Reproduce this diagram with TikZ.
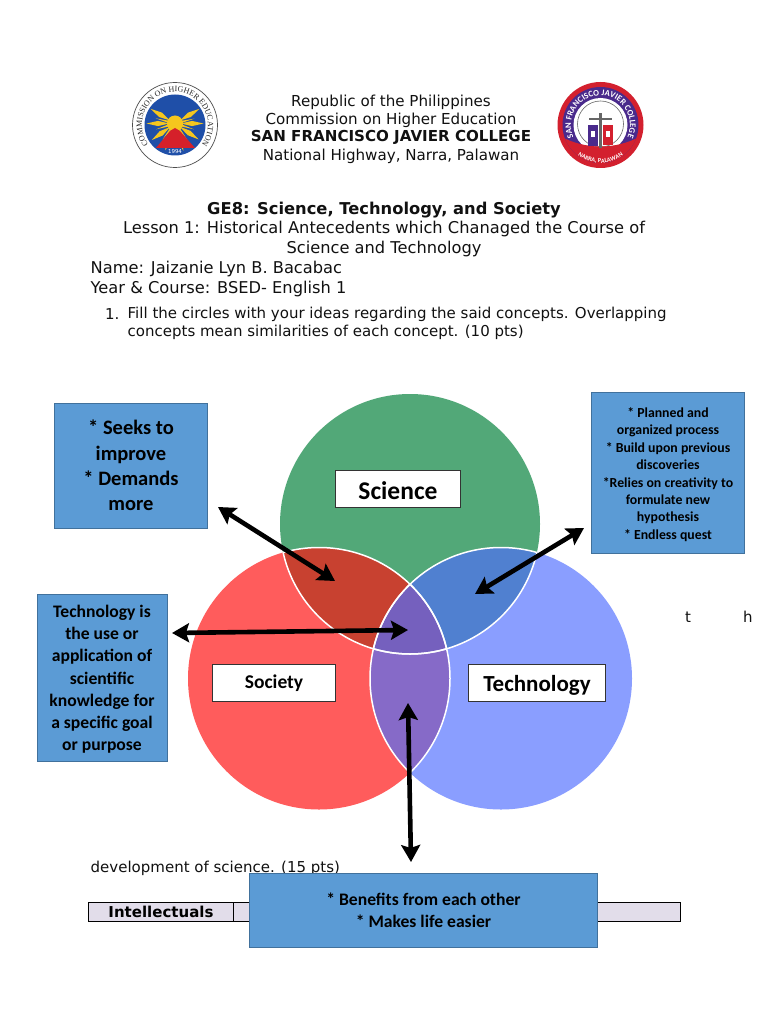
\documentclass[tikz,border=0pt]{standalone}
\usepackage{fontspec}
\setmainfont{DejaVu Sans}
\newfontfamily\boxfont{Carlito}
\newfontfamily\sealfont{Liberation Serif}
\usetikzlibrary{arrows.meta,decorations.text}
\definecolor{scigreen}{HTML}{52A878}
\definecolor{socred}{HTML}{FF5C5C}
\definecolor{techblue}{HTML}{8A9EFF}
\definecolor{lensA}{HTML}{C84130}
\definecolor{lensB}{HTML}{5080D0}
\definecolor{lensC}{HTML}{866AC8}
\definecolor{lensD}{HTML}{7560BE}
\definecolor{boxblue}{HTML}{5B9BD5}
\definecolor{boxedge}{HTML}{41719C}
\definecolor{tablefill}{HTML}{E2DDEA}
\definecolor{chedblue}{HTML}{1F4FA8}
\definecolor{chedyellow}{HTML}{F5C61E}
\definecolor{chedred}{HTML}{D5202A}
\definecolor{sfred}{HTML}{D3202E}
\definecolor{sfpurple}{HTML}{4A2A8C}
\definecolor{txt}{HTML}{111111}
\tikzset{
  hdr/.style={inner sep=0pt,text=txt,font=\fontsize{15.1}{17}\selectfont},
  hdrbold/.style={inner sep=0pt,text=txt,font=\fontsize{15.1}{17}\bfseries\selectfont},
  hdrbig/.style={inner sep=0pt,text=txt,font=\fontsize{16.25}{20}\selectfont},
  titlebold/.style={inner sep=0pt,text=txt,font=\fontsize{16.3}{20}\bfseries\selectfont},
  bodytext/.style={inner sep=0pt,anchor=west,text=txt,font=\fontsize{15}{17}\selectfont},
  callout/.style={draw=boxedge,line width=0.8pt,fill=boxblue,inner sep=0pt,align=center,text=black},
  conceptbox/.style={draw=black!80,line width=0.9pt,fill=white,inner sep=0pt,text=black,text depth=0pt},
  tablecell/.style={draw=black,line width=0.9pt,fill=tablefill,minimum height=19pt,inner sep=0pt,anchor=north west},
  twoway/.style={line width=4.6pt,{Stealth[length=17pt,width=19pt,inset=3pt]}-{Stealth[length=17pt,width=19pt,inset=3pt]}},
}
\begin{document}
\begin{tikzpicture}[x=1pt,y=-1pt]
\useasboundingbox (0,0) rectangle (768,1024);
\fill[white] (0,0) rectangle (768,1024);

% CHED seal
\draw[black!70,line width=0.7pt] (175,125) circle (42.5);
\fill[chedblue] (175,125) circle (30.5);
\begin{scope}[shift={(175,123.5)}]
  \foreach \a in {197,232,268,307,343,14,165}{
    \fill[chedyellow,rotate=\a] (5,1.2) -- (20,0) -- (5,-1.2) -- cycle;
  }
  \foreach \a in {180,149,215.5,250,287,326,0,31}{
    \fill[chedyellow,rotate=\a] (6,0) -- (17,2.6) -- (28.5,0) -- (17,-2.6) -- cycle;
  }
  \fill[chedyellow] (0,0) circle (8);
\end{scope}
\fill[chedred] (156,148) -- (170,131) -- (175,128) -- (180,131) -- (195,148) -- cycle;
\node[inner sep=0pt,text=white,font=\fontsize{5.5}{6}\selectfont] (chedyear) at (175,151.5) {1994};
\path[postaction={decorate,decoration={text along path,text align=center,
  text={|\sealfont\fontsize{8}{9}\selectfont\color{black!85}|COMMISSION ON HIGHER EDUCATION}}}]
  (175,125) ++(130:33) arc[start angle=130,end angle=410,radius=33];

% SFJC seal
\fill[sfred] (600.5,125) circle (43);
\fill[sfpurple] (600.5,125) circle (38);
\fill[white] (600.5,125) circle (27);
\draw[black!60,line width=0.6pt] (600.5,124) circle (23);
\begin{scope}
  \clip (600.5,125) circle (38);
  \fill[sfred] (560,136) .. controls (585,150) and (616,150) .. (641,136) -- (641,170) -- (560,170) -- cycle;
\end{scope}
\fill[sfpurple] (588,125) rectangle (598,146);
\fill[sfred] (602.5,125) rectangle (613,145);
\fill[black!60] (599,113) rectangle (602,148);
\fill[black!60] (589,118) rectangle (612,120.5);
\fill[white] (591,131) rectangle (595,137);
\fill[white] (606,131) rectangle (610,137);
\path[postaction={decorate,decoration={text along path,text align=center,
  text={|\boxfont\fontsize{8.6}{9}\bfseries\selectfont\color{white}|SAN FRANCISCO JAVIER COLLEGE}}}]
  (600.5,125) ++(145:29.5) arc[start angle=145,end angle=395,radius=29.5];
\path[postaction={decorate,decoration={text along path,text align=center,
  text={|\boxfont\fontsize{6.2}{7}\bfseries\selectfont\color{white}|NARRA, PALAWAN}}}]
  (600.5,125) ++(145:38) arc[start angle=145,end angle=35,radius=38];

% Letterhead
\node[hdr] (h1) at (391,102) {Republic of the Philippines};
\node[hdr] (h2) at (391,120) {Commission on Higher Education};
\node[hdrbold] (h3) at (391,137.5) {SAN FRANCISCO JAVIER COLLEGE};
\node[hdr] (h4) at (391,156.5) {National Highway, Narra, Palawan};
\node[titlebold] (t1) at (384,210) {GE8: Science, Technology, and Society};
\node[hdrbig] (t2) at (384,229.5) {Lesson 1: Historical Antecedents which Chanaged the Course of};
\node[hdrbig] (t3) at (384,249.5) {Science and Technology};
\node[hdrbig,anchor=west] (n1) at (90.5,269) {Name: Jaizanie Lyn B. Bacabac};
\node[hdrbig,anchor=west] (n2) at (90.5,289) {Year \& Course: BSED- English 1};
\node[bodytext] (q0) at (105,314.5) {1.};
\node[bodytext] (q1) at (127.5,314.5) {Fill the circles with your ideas regarding the said concepts. Overlapping};
\node[bodytext] (q2) at (127.5,332.5) {concepts mean similarities of each concept. (10 pts)};
\node[bodytext] (q3) at (90.5,868.5) {development of science. (15 pts)};
\node[bodytext] (s1) at (685,617) {t};
\node[bodytext] (s2) at (743,617) {h};

% Table strip
\node[tablecell,minimum width=145pt,font=\fontsize{15}{17}\bfseries\selectfont,text=black] (intel) at (88,902) {Intellectuals};
\node[tablecell,minimum width=447pt] (rest) at (233,902) {};

% Venn
\coordinate (sci) at (410,524);
\coordinate (soc) at (319,678.5);
\coordinate (tec) at (501,678.5);
\fill[socred] (soc) circle (131);
\fill[techblue] (tec) circle (131);
\fill[scigreen] (sci) circle (130);
\begin{scope}\clip (sci) circle (130); \fill[lensA] (soc) circle (131); \end{scope}
\begin{scope}\clip (sci) circle (130); \fill[lensB] (tec) circle (131); \end{scope}
\begin{scope}\clip (soc) circle (131); \fill[lensC] (tec) circle (131); \end{scope}
\begin{scope}\clip (sci) circle (130); \clip (soc) circle (131); \fill[lensD] (tec) circle (131); \end{scope}
\begin{scope}\clip (sci) circle (130);
  \draw[white,line width=1.5pt] (soc) circle (131);
  \draw[white,line width=1.5pt] (tec) circle (131);
\end{scope}
\begin{scope}\clip (soc) circle (131);
  \draw[white,line width=1.5pt] (sci) circle (130);
  \draw[white,line width=1.5pt] (tec) circle (131);
\end{scope}
\begin{scope}\clip (tec) circle (131);
  \draw[white,line width=1.5pt] (sci) circle (130);
  \draw[white,line width=1.5pt] (soc) circle (131);
\end{scope}

% Concept labels
\node[conceptbox,minimum width=125pt,minimum height=37pt,text height=20.6pt,font=\boxfont\fontsize{25.5}{28}\bfseries\selectfont] (science) at (398,489) {Science};
\node[conceptbox,minimum width=123pt,minimum height=37pt,text height=11pt,font=\boxfont\fontsize{19.5}{24}\bfseries\selectfont] (society) at (274,683) {Society};
\node[conceptbox,minimum width=137pt,minimum height=37pt,text height=17.4pt,font=\boxfont\fontsize{23}{28}\bfseries\selectfont] (technology) at (537,683) {Technology};

% Callouts
\node[callout,minimum width=153pt,minimum height=125pt,font=\boxfont\fontsize{20.5}{25.3}\bfseries\selectfont] (improve) at (131,465.5)
  {* Seeks to\\improve\\* Demands\\more};
\node[callout,minimum width=153pt,minimum height=161pt,font=\boxfont\fontsize{13.8}{17.4}\bfseries\selectfont] (planned) at (668,472.5)
  {\rule{0pt}{14pt}* Planned and\\organized process\\* Build upon previous\\discoveries\\*Relies on creativity to\\formulate new\\hypothesis\\* Endless quest};
\node[callout,minimum width=130pt,minimum height=167pt,font=\boxfont\fontsize{17.6}{22.2}\bfseries\selectfont] (techdef) at (102,677.5)
  {\rule{0pt}{16pt}Technology is\\the use or\\application of\\scientific\\knowledge for\\a specific goal\\or purpose};
\node[callout,minimum width=348pt,minimum height=74pt,font=\boxfont\fontsize{17.6}{22}\bfseries\selectfont] (benefit) at (423.5,910)
  {* Benefits from each other\\* Makes life easier};

% Arrows
\coordinate (a1s) at (218,507); \coordinate (a1e) at (335,581);
\coordinate (a2s) at (584,528); \coordinate (a2e) at (475,594);
\coordinate (a3s) at (172,633); \coordinate (a3e) at (408,630);
\coordinate (a4s) at (408,703); \coordinate (a4e) at (411,862);
\draw[twoway] (a1s) -- (a1e);
\draw[twoway] (a2s) -- (a2e);
\draw[twoway] (a3s) -- (a3e);
\draw[twoway] (a4s) -- (a4e);
\end{tikzpicture}
\end{document}
